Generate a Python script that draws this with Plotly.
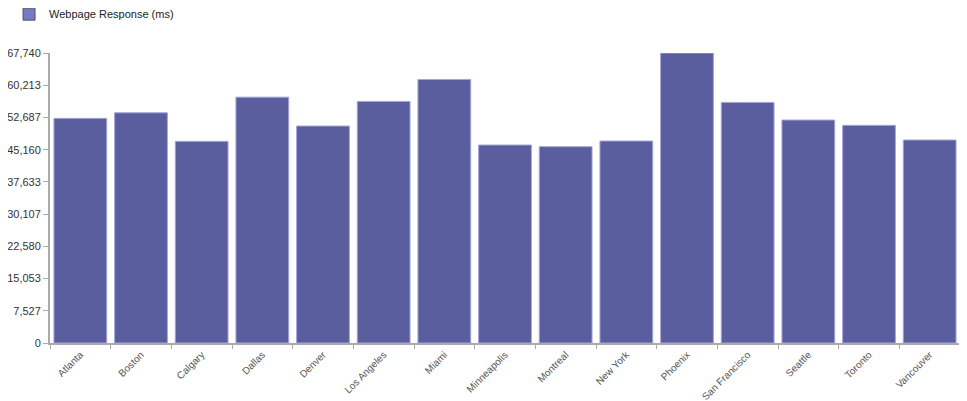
import plotly.graph_objects as go

# Данные
cities = [
    "Atlanta", "Boston", "Calgary", "Dallas", "Denver", "Los Angeles",
    "Miami", "Minneapolis", "Montreal", "New York", "Phoenix",
    "San Francisco", "Seattle", "Toronto", "Vancouver",
]
response_ms = [
    52470, 53780, 47110, 57430, 50680, 56430,
    61560, 46250, 45860, 47180, 67740,
    56200, 52080, 50840, 47420,
]
y_ticks = [0, 7527, 15053, 22580, 30107, 37633, 45160, 52687, 60213, 67740]
y_labels = [f"{v:,}" for v in y_ticks]

font_family = "Arial, Liberation Sans, sans-serif"

fig = go.Figure()

# Сами столбцы (без легенды)
fig.add_trace(
    go.Bar(
        x=cities,
        y=response_ms,
        marker=dict(color="#5a5e9f", line=dict(color="#a3a6d8", width=1)),
        showlegend=False,
        hoverinfo="x+y",
    )
)

# Пустой ряд только для значка в легенде (он светлее столбцов)
fig.add_trace(
    go.Bar(
        x=[None],
        y=[None],
        name="Webpage Response (ms)",
        marker=dict(color="#7579c8", line=dict(color="#555555", width=1)),
        showlegend=True,
    )
)

# страница имеет отступ 8px, поэтому фигура сдвинута на 8px
fig.update_layout(
    width=959,
    height=393,
    barmode="overlay",
    bargap=0.13,
    plot_bgcolor="white",
    paper_bgcolor="white",
    font=dict(family=font_family, size=11, color="#222222"),
    margin=dict(l=42, r=7, t=45, b=58, autoexpand=False),
    legend=dict(
        orientation="h",
        x=-0.045,
        y=1.184,
        xanchor="left",
        yanchor="top",
        font=dict(size=11, color="#222222"),
    ),
)

fig.update_xaxes(
    type="category",
    automargin=False,
    showline=True,
    linecolor="#aaaaaa",
    linewidth=2,
    ticks="outside",
    tickson="boundaries",
    ticklen=4,
    tickcolor="#aaaaaa",
    tickangle=-45,
    tickfont=dict(size=10, color="#555555"),
    showgrid=False,
)
fig.update_yaxes(
    range=[0, 67740],
    automargin=False,
    tickmode="array",
    tickvals=y_ticks,
    ticktext=y_labels,
    showline=True,
    linecolor="#aaaaaa",
    linewidth=2,
    ticks="outside",
    ticklen=5,
    tickcolor="#aaaaaa",
    tickfont=dict(size=11, color="#333333"),
    showgrid=False,
    zeroline=False,
)

fig.write_html("out.html")
